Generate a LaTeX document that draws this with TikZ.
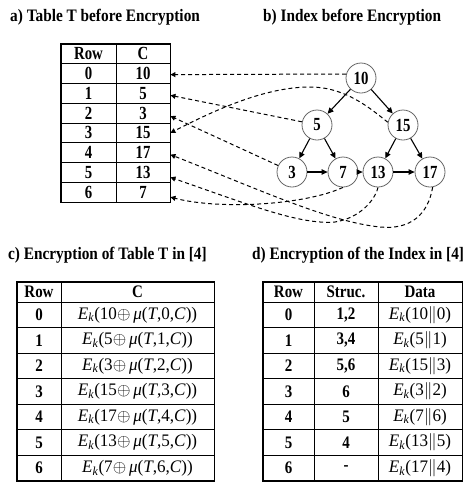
\documentclass[tikz,border=0pt]{standalone}
\usepackage{fontspec}
\setmainfont{Liberation Serif}
\newfontfamily\titlefont{Liberation Serif}[FakeStretch=0.875]
\newfontfamily\tabfont{Liberation Serif}[FakeStretch=0.8]
\newfontfamily\btabfont{Liberation Serif}[FakeStretch=0.85]
\newfontfamily\datafont{Liberation Serif}[FakeStretch=0.97]
\usetikzlibrary{arrows.meta,calc}
\newcommand\Ek{\textit{E}\textsubscript{\textit{k}}}
\begin{document}
\begin{tikzpicture}[x=1pt,y=-1pt,
  title/.style={anchor=west,inner sep=0pt,font=\titlefont\fontsize{17.5}{18}\selectfont\bfseries},
  acell/.style={draw,line width=0.9pt,minimum width=#1,minimum height=19.75pt,inner sep=0pt,font=\tabfont\fontsize{18.5}{18.5}\selectfont\bfseries},
  bcell/.style={draw,line width=1pt,minimum width=#1,minimum height=25.57pt,inner sep=0pt,font=\btabfont\fontsize{17.6}{17.6}\selectfont\bfseries},
  bhead/.style={draw,line width=1pt,minimum width=#1,minimum height=20pt,inner sep=0pt,font=\btabfont\fontsize{17.6}{17.6}\selectfont\bfseries},
  bdata/.style={bcell=#1,font=\datafont\fontsize{17.6}{17.6}\selectfont},
  tnode/.style={circle,draw=black!60,line width=0.8pt,minimum size=30pt,inner sep=0pt,fill=white,font=\tabfont\fontsize{18.5}{18.5}\selectfont\bfseries},
  tedge/.style={line width=1.1pt,-{Triangle[length=6pt,width=5.5pt]}},
  dconn/.style={line width=1pt,dash pattern=on 4pt off 3pt,-{Triangle[length=5pt,width=5pt]}}
]
\useasboundingbox (0,0) rectangle (474,488);

% titles
\node[title] (ta) at (10,17) {a) Table T before Encryption};
\node[title] (tb) at (263,17) {b) Index before Encryption};
\node[title] (tc) at (8,255) {c) Encryption of Table T in [4]};
\node[title] (td) at (252,255) {d) Encryption of the Index in [4]};

% table a
\node[acell=55pt] (arh) at (88.5,53.875) {Row};
\node[acell=54pt] (ach) at (143,53.875) {C};
\foreach \i/\v in {0/10,1/5,2/3,3/15,4/17,5/13,6/7}{
  \node[acell=55pt] (ar\i) at (88.5,{73.625+19.75*\i}) {\i};
  \node[acell=54pt] (ac\i) at (143,{73.625+19.75*\i}) {\v};
}
\draw[line width=1.3pt] (arh.north west) rectangle (ac6.south east);
\draw[line width=1.4pt] (ar4.north west) -- (ac4.north east);

% tree
\node[tnode] (t10) at (361,78) {10};
\node[tnode] (t5) at (317,125) {5};
\node[tnode] (t15) at (403,125) {15};
\node[tnode] (t3) at (292,172) {3};
\node[tnode] (t7) at (343,172) {7};
\node[tnode] (t13) at (378,172) {13};
\node[tnode] (t17) at (430,172) {17};
\draw[tedge] (t10) -- (t5);
\draw[tedge] (t10) -- (t15);
\draw[tedge] (t5) -- (t3);
\draw[tedge] (t5) -- (t7);
\draw[tedge] (t15) -- (t13);
\draw[tedge] (t15) -- (t17);
\draw[tedge] (t3) -- (t7);
\draw[tedge] (t7) -- (t13);
\draw[tedge] (t13) -- (t17);

% dashed connectors
\draw[dconn] (t10.165) -- ([yshift=-1pt]ac0.east);
\draw[dconn] (t5.168) -- ([yshift=-2pt]ac1.east);
\draw[dconn] (t3.155) -- ([yshift=-3pt]ac2.east);
\draw[dconn] (t15.170) .. controls (370,108) and (345,87) .. (310,87)
   .. controls (265,87) and (215,110) .. (ac3.east);
\draw[dconn] (t17.-80) .. controls (428,215) and (410,230) .. (380,227)
   .. controls (330,222) and (260,190) .. ([yshift=-2pt]ac4.east);
\draw[dconn] (t13.south) .. controls (375,200) and (360,218) .. (335,222)
   .. controls (300,225) and (250,205) .. ([yshift=-5pt]ac5.east);
\draw[dconn] (t7.south) .. controls (305,205) and (220,210) .. ([yshift=-5pt]ac6.east);

% table c
\node[bhead=44pt] (crh) at (39,292) {Row};
\node[bhead=153pt] (cch) at (137.5,292) {C};
\foreach \i/\v in {0/10,1/5,2/3,3/15,4/17,5/13,6/7}{
  \node[bcell=44pt] (cr\i) at (39,{302+25.57*(\i+0.5)}) {\i};
  \node[bdata=153pt] (cc\i) at (137.5,{302+25.57*(\i+0.5)}) {\Ek(\v$\oplus$\,\textit{μ}(\textit{T},\i,\textit{C}))};
}
\draw[line width=1.3pt] (crh.north west) rectangle (cc6.south east);

% table d
\node[bhead=51pt] (drh) at (288.5,292) {Row};
\node[bhead=64pt] (dsh) at (346,292) {Struc.};
\node[bhead=84pt] (ddh) at (420,292) {Data};
\foreach \i/\s/\v/\w in {0/{1,2}/10/0,1/{3,4}/5/1,2/{5,6}/15/3,3/6/3/2,4/5/7/6,5/4/13/5,6/-/17/4}{
  \node[bcell=51pt] (dr\i) at (288.5,{302+25.57*(\i+0.5)}) {\i};
  \node[bcell=64pt] (ds\i) at (346,{302+25.57*(\i+0.5)}) {\s};
  \node[bdata=84pt] (dd\i) at (420,{302+25.57*(\i+0.5)}) {\Ek(\v$\|$\w)};
}
\draw[line width=1.3pt] (drh.north west) rectangle (dd6.south east);
\end{tikzpicture}
\end{document}
